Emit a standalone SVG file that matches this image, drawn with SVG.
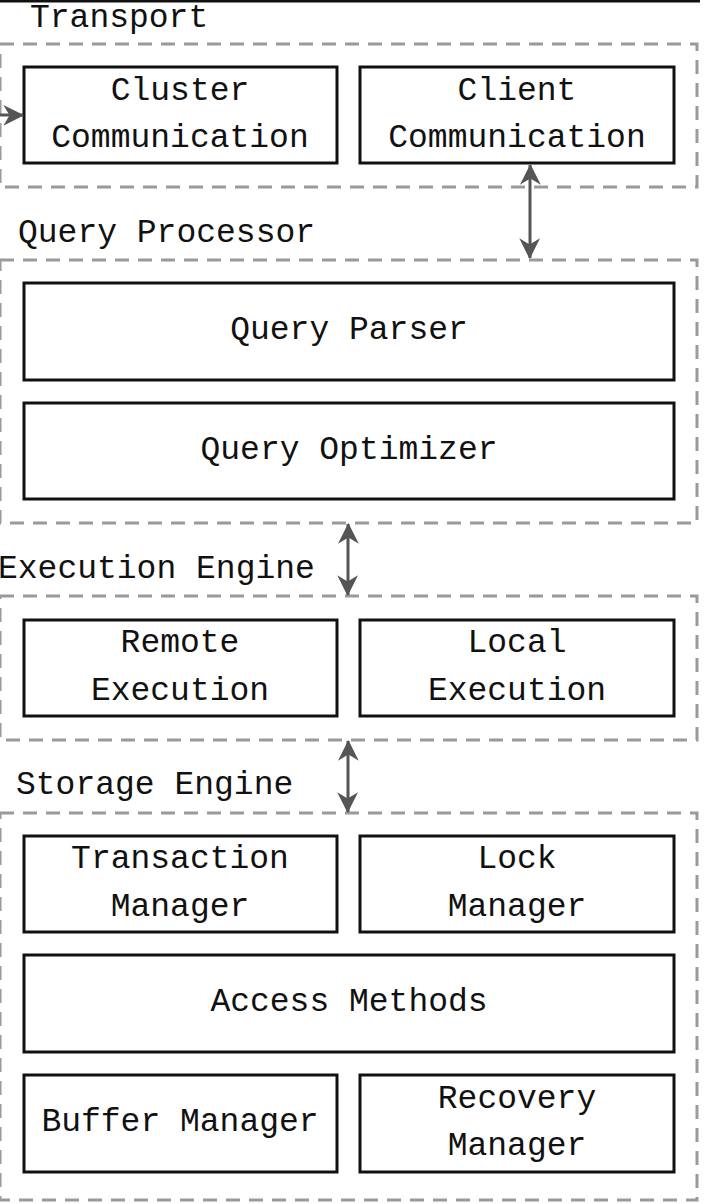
<svg xmlns="http://www.w3.org/2000/svg" width="706" height="1204" viewBox="0 0 706 1204">
<style>
.c{fill:none;stroke:#9a9a9a;stroke-width:3;stroke-dasharray:14 9}
.b{fill:#fff;stroke:#111;stroke-width:3}
text{font-family:"Liberation Mono","DejaVu Sans Mono",monospace;font-size:33px;fill:#111;text-anchor:middle}
.l{text-anchor:start}
.a{stroke:#555;stroke-width:3;fill:none}
</style>
<defs>
<marker id="h" viewBox="0 0 10 10" refX="9" refY="5" markerWidth="8" markerHeight="8" markerUnits="userSpaceOnUse" orient="auto-start-reverse" style="overflow:visible"><path d="M0,0 L10,5 L0,10 L3,5 Z" fill="#555" transform="scale(2.6) translate(-6,-2.9)"/></marker>
</defs>
<rect width="706" height="1204" fill="#fff"/>
<line x1="0" y1="1" x2="700" y2="1" stroke="#111" stroke-width="3"/>
<g id="transport">
<text class="l" x="30" y="27">Transport</text>
<rect class="c" x="0" y="44" width="697" height="143"/>
</g>
<g id="cluster"><rect class="b" x="24" y="67" width="313" height="96"/><text x="180" y="100">Cluster</text><text x="180" y="147">Communication</text></g>
<g id="client"><rect class="b" x="360" y="67" width="314" height="96"/><text x="517" y="100">Client</text><text x="517" y="147">Communication</text></g>
<g id="queryproc">
<text class="l" x="18" y="242">Query Processor</text>
<rect class="c" x="0" y="260" width="697" height="263"/>
</g>
<g id="parser"><rect class="b" x="24" y="283" width="650" height="97"/><text x="349" y="339">Query Parser</text></g>
<g id="optimizer"><rect class="b" x="24" y="403" width="650" height="96"/><text x="349" y="459">Query Optimizer</text></g>
<g id="exec">
<text class="l" x="-2" y="578">Execution Engine</text>
<rect class="c" x="0" y="596" width="697" height="144"/>
</g>
<g id="remote"><rect class="b" x="24" y="620" width="313" height="96"/><text x="180" y="652">Remote</text><text x="180" y="700">Execution</text></g>
<g id="local"><rect class="b" x="360" y="620" width="314" height="96"/><text x="517" y="652">Local</text><text x="517" y="700">Execution</text></g>
<g id="storage">
<text class="l" x="16" y="794">Storage Engine</text>
<rect class="c" x="0" y="813" width="697" height="387"/>
</g>
<g id="txn"><rect class="b" x="24" y="836" width="313" height="96"/><text x="180" y="868">Transaction</text><text x="180" y="916">Manager</text></g>
<g id="lock"><rect class="b" x="360" y="836" width="314" height="96"/><text x="517" y="868">Lock</text><text x="517" y="916">Manager</text></g>
<g id="access"><rect class="b" x="24" y="955" width="650" height="97"/><text x="349" y="1011">Access Methods</text></g>
<g id="buffer"><rect class="b" x="24" y="1075" width="313" height="97"/><text x="180" y="1131">Buffer Manager</text></g>
<g id="recovery"><rect class="b" x="360" y="1075" width="314" height="97"/><text x="517" y="1108">Recovery</text><text x="517" y="1155">Manager</text></g>
<g id="connectors">
<line class="a" x1="0" y1="115" x2="23" y2="115" marker-end="url(#h)"/>
<line class="a" x1="530" y1="165" x2="530" y2="258" marker-start="url(#h)" marker-end="url(#h)"/>
<line class="a" x1="348" y1="524" x2="348" y2="595" marker-start="url(#h)" marker-end="url(#h)"/>
<line class="a" x1="348" y1="741" x2="348" y2="812" marker-start="url(#h)" marker-end="url(#h)"/>
</g>
</svg>
